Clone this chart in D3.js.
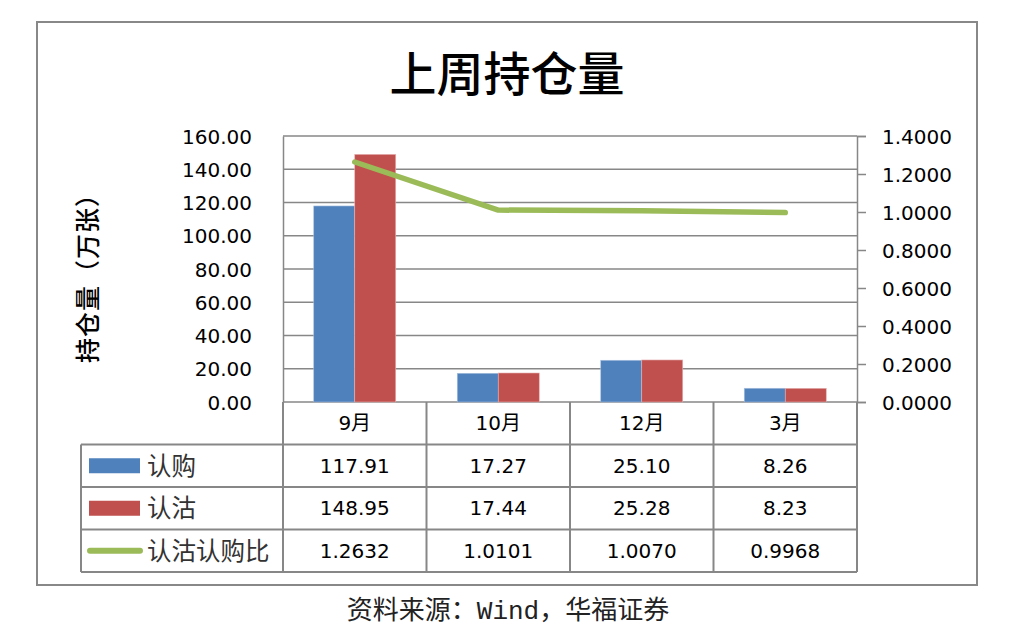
<!DOCTYPE html>
<html>
<head>
<meta charset="utf-8">
<script src="https://cdn.jsdelivr.net/npm/d3@7"></script>
<style>
  body { margin: 0; background: #fff; }
  text { font-family: "DejaVu Sans", "Noto Sans CJK SC", sans-serif; }
</style>
</head>
<body>
<div id="chart"></div>
<script>
// chart data
var categories = ["9月", "10月", "12月", "3月"];
var callVals = [117.91, 17.27, 25.10, 8.26];
var putVals = [148.95, 17.44, 25.28, 8.23];
var ratioVals = [1.2632, 1.0101, 1.0070, 0.9968];
var seriesNames = ["认购", "认沽", "认沽认购比"];
var leftTicks = [0, 20, 40, 60, 80, 100, 120, 140, 160];
var rightTicks = [0, 0.2, 0.4, 0.6, 0.8, 1.0, 1.2, 1.4];

var colors = {call: "#4F81BD", put: "#C0504D", ratio: "#9BBB59"};
var gridColor = "#878787";

var width = 1013, height = 630;
var plot = {left: 283, right: 857, top: 136, bottom: 402};
var rowH = 42.5;
var tableLeft = 81;

var svg = d3.select("#chart").append("svg")
    .attr("width", width)
    .attr("height", height);

// outer frame
svg.append("rect")
    .attr("x", 37).attr("y", 22)
    .attr("width", 940).attr("height", 563)
    .attr("fill", "none")
    .attr("stroke", "#888")
    .attr("stroke-width", 2);

// title
svg.append("text")
    .attr("x", 507).attr("y", 91)
    .attr("text-anchor", "middle")
    .style("font-family", "'Noto Sans CJK SC'")
    .style("font-size", "47px")
    .style("font-weight", 500)
    .attr("fill", "#000")
    .text("上周持仓量");

// scales
var x = d3.scaleBand().domain(categories).range([plot.left, plot.right]).padding(0);
var xs = d3.scaleBand().domain(["call", "put"]).range([0, x.bandwidth()])
    .paddingInner(0).paddingOuter(0.75);
var yL = d3.scaleLinear().domain([0, 160]).range([plot.bottom, plot.top]);
var yR = d3.scaleLinear().domain([0, 1.4]).range([plot.bottom, plot.top]);

// gridlines
svg.append("g").selectAll("line")
    .data(leftTicks)
    .enter().append("line")
    .attr("x1", plot.left).attr("x2", plot.right)
    .attr("y1", function(d) { return yL(d); })
    .attr("y2", function(d) { return yL(d); })
    .attr("stroke", gridColor)
    .attr("stroke-width", 1.5);

// left axis
var leftAxis = svg.append("g")
    .attr("transform", "translate(" + plot.left + ",0)")
    .call(d3.axisLeft(yL).tickValues(leftTicks).tickFormat(d3.format(".2f")).tickSize(0).tickPadding(31));
leftAxis.select(".domain").attr("stroke", gridColor).attr("stroke-width", 1.5);
leftAxis.selectAll("text")
    .style("font-size", "20px")
    .attr("fill", "#000")
    .attr("dy", "0.36em");

// right axis
var rightAxis = svg.append("g")
    .attr("transform", "translate(" + plot.right + ",0)")
    .call(d3.axisRight(yR).tickValues(rightTicks).tickFormat(d3.format(".4f")).tickSize(9).tickPadding(16));
rightAxis.select(".domain").attr("stroke", gridColor).attr("stroke-width", 1.5);
rightAxis.selectAll("line").attr("stroke", gridColor).attr("stroke-width", 1.5);
rightAxis.selectAll("text")
    .style("font-size", "20px")
    .attr("fill", "#000")
    .attr("dy", "0.36em");

// y axis title
svg.append("text")
    .attr("transform", "translate(97,272) rotate(-90)")
    .attr("text-anchor", "middle")
    .style("font-family", "'Noto Sans CJK SC'")
    .style("font-size", "25px")
    .style("font-weight", 500)
    .style("letter-spacing", "1px")
    .attr("fill", "#000")
    .text("持仓量（万张）");

// bars
var barData = [];
categories.forEach(function(c, i) {
    barData.push({cat: c, key: "call", value: callVals[i]});
    barData.push({cat: c, key: "put", value: putVals[i]});
});
svg.append("g").selectAll("rect")
    .data(barData)
    .enter().append("rect")
    .attr("x", function(d) { return x(d.cat) + xs(d.key); })
    .attr("y", function(d) { return yL(d.value); })
    .attr("width", xs.bandwidth())
    .attr("height", function(d) { return plot.bottom - yL(d.value); })
    .attr("fill", function(d) { return colors[d.key]; })
    .attr("stroke", function(d) { return d.key == "put" ? "#e6b3b2" : "#a9c0de"; })
    .attr("stroke-width", 0.6);

// ratio line
var line = d3.line()
    .x(function(d, i) { return x(categories[i]) + x.bandwidth() / 2; })
    .y(function(d) { return yR(d); });
svg.append("path")
    .datum(ratioVals)
    .attr("d", line)
    .attr("fill", "none")
    .attr("stroke", colors.ratio)
    .attr("stroke-width", 5.5)
    .attr("stroke-linecap", "round")
    .attr("stroke-linejoin", "round");

// data table
var table = svg.append("g");
var tableRows = [
    {name: seriesNames[0], vals: callVals, fmt: d3.format(".2f"), key: "call"},
    {name: seriesNames[1], vals: putVals, fmt: d3.format(".2f"), key: "put"},
    {name: seriesNames[2], vals: ratioVals, fmt: d3.format(".4f"), key: "ratio"}
];
var catTop = plot.bottom;
var bodyTop = catTop + rowH;
var tableBottom = bodyTop + rowH * tableRows.length;

// horizontal rules
var hLines = [bodyTop, bodyTop + rowH, bodyTop + 2 * rowH, tableBottom];
table.selectAll(".hline")
    .data(hLines)
    .enter().append("line")
    .attr("class", "hline")
    .attr("x1", tableLeft).attr("x2", plot.right)
    .attr("y1", function(d) { return d; })
    .attr("y2", function(d) { return d; })
    .attr("stroke", gridColor)
    .attr("stroke-width", 2);

// vertical rules
var vEdges = categories.map(function(c) { return x(c); }).concat([plot.right]);
table.selectAll(".vline")
    .data(vEdges)
    .enter().append("line")
    .attr("class", "vline")
    .attr("x1", function(d) { return d; })
    .attr("x2", function(d) { return d; })
    .attr("y1", catTop).attr("y2", tableBottom)
    .attr("stroke", gridColor)
    .attr("stroke-width", 2);
table.append("line")
    .attr("x1", tableLeft).attr("x2", tableLeft)
    .attr("y1", bodyTop).attr("y2", tableBottom)
    .attr("stroke", gridColor)
    .attr("stroke-width", 2);

// category labels
table.selectAll(".cat")
    .data(categories)
    .enter().append("text")
    .attr("class", "cat")
    .attr("x", function(d) { return x(d) + x.bandwidth() / 2; })
    .attr("y", catTop + rowH / 2)
    .attr("dy", "0.36em")
    .attr("text-anchor", "middle")
    .style("font-size", "20px")
    .attr("fill", "#000")
    .text(function(d) { return d; });

// rows
tableRows.forEach(function(r, ri) {
    var cy = bodyTop + rowH * ri + rowH / 2;
    var row = table.append("g");
    if (r.key == "ratio") {
        row.append("line")
            .attr("x1", 90).attr("x2", 140)
            .attr("y1", cy).attr("y2", cy)
            .attr("stroke", colors.ratio)
            .attr("stroke-width", 6)
            .attr("stroke-linecap", "round");
    } else {
        row.append("rect")
            .attr("x", 89).attr("y", cy - 7.5)
            .attr("width", 51).attr("height", 15)
            .attr("fill", colors[r.key]);
    }
    row.append("text")
        .attr("x", 147).attr("y", cy)
        .attr("dy", "0.36em")
        .style("font-family", "'Noto Sans CJK SC'")
        .style("font-size", "24.5px")
        .attr("fill", "#333")
        .text(r.name);
    row.selectAll(".val")
        .data(r.vals)
        .enter().append("text")
        .attr("class", "val")
        .attr("x", function(d, i) { return x(categories[i]) + x.bandwidth() / 2; })
        .attr("y", cy)
        .attr("dy", "0.36em")
        .attr("text-anchor", "middle")
        .style("font-size", "20px")
        .attr("fill", "#000")
        .text(function(d) { return r.fmt(d); });
});

// source note
svg.append("text")
    .attr("x", 508).attr("y", 610)
    .attr("dy", "0.36em")
    .attr("text-anchor", "middle")
    .style("font-family", "'Liberation Mono', 'Noto Sans CJK SC'")
    .style("font-size", "26px")
    .attr("fill", "#222")
    .text("资料来源：Wind，华福证券");
</script>
</body>
</html>
